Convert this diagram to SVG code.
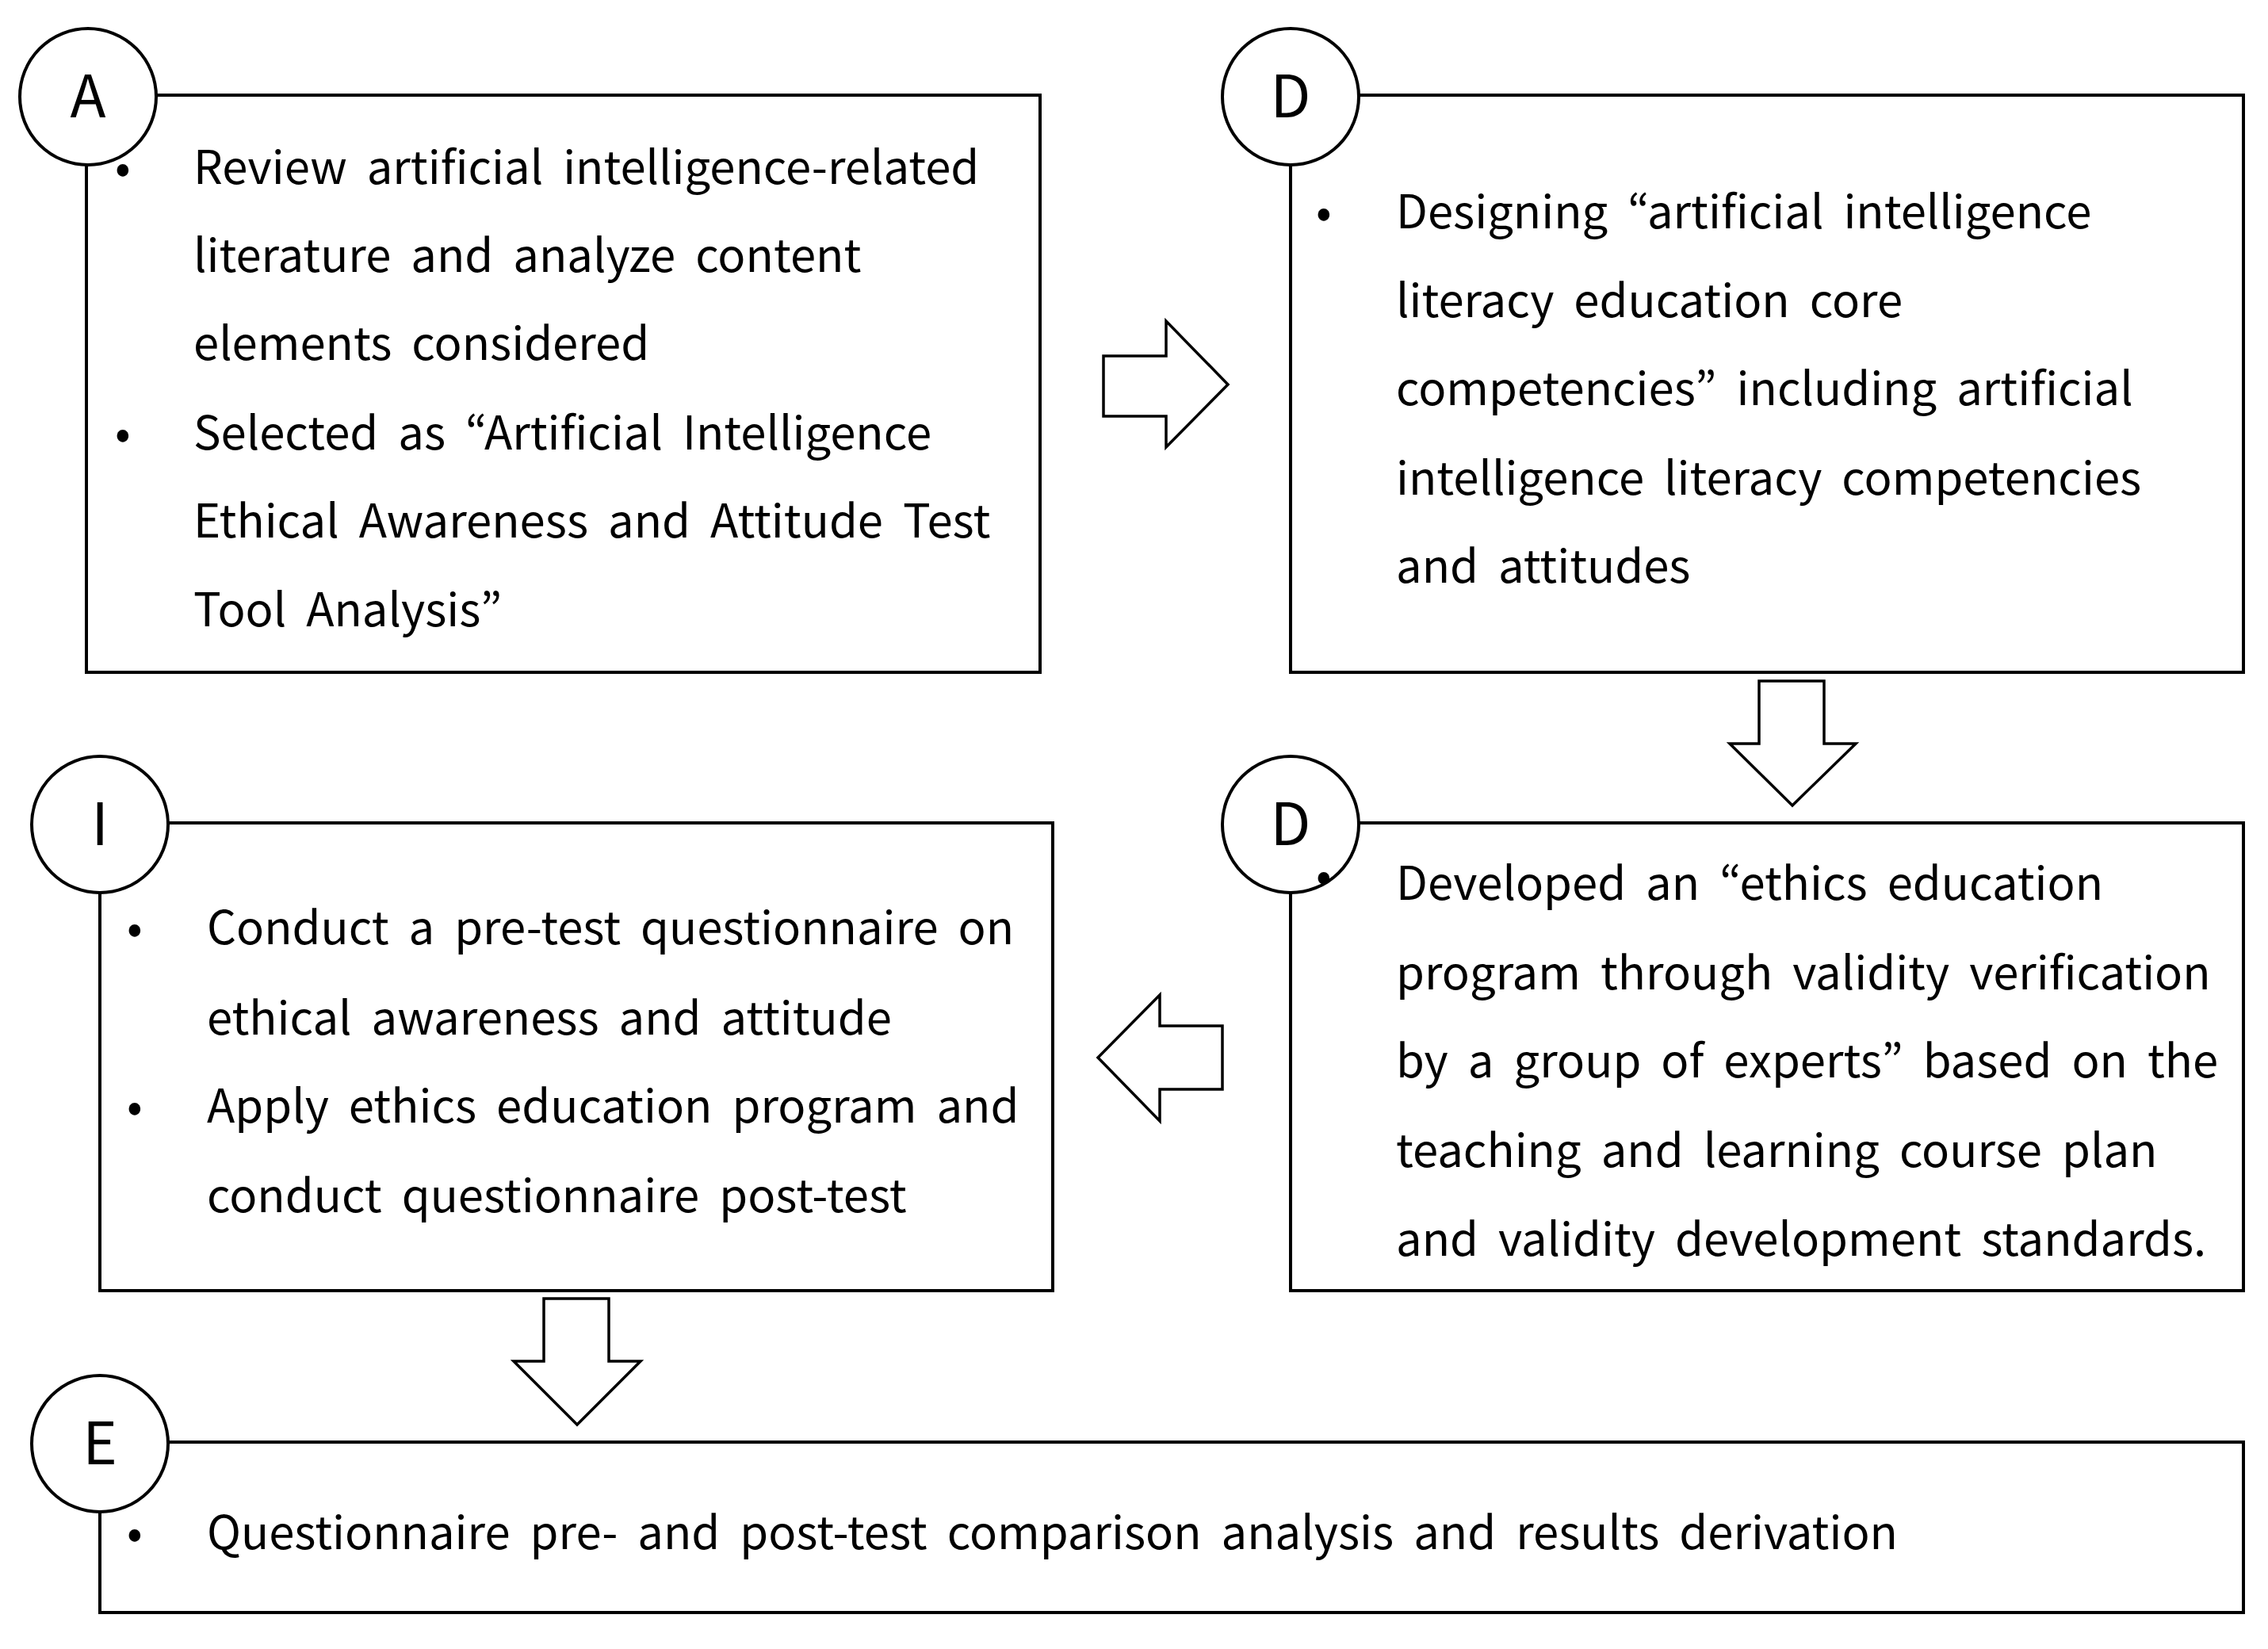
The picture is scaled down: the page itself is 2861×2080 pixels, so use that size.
<svg xmlns="http://www.w3.org/2000/svg" width="2861" height="2080" viewBox="0 0 2861 2080">
<style>
.b{fill:#fff;stroke:#000;stroke-width:4}
.a{fill:#fff;stroke:#000;stroke-width:3.5;stroke-linejoin:miter}
text{font-family:"Noto Sans CJK KR","Open Sans",sans-serif;font-size:58px;fill:#000;word-spacing:12px}
.l{font-size:74px;text-anchor:middle}
</style>
<rect width="2861" height="2080" fill="#fff"/>
<g id="connectors">
<polygon class="a" points="1392,449 1471,449 1471,405 1549,485 1471,564 1471,525 1392,525"/>
<polygon class="a" points="2219,859 2301,859 2301,938 2341,938 2261,1016 2182,938 2219,938"/>
<polygon class="a" points="1542,1294 1463,1294 1463,1255 1385,1334 1463,1414 1463,1374 1542,1374"/>
<polygon class="a" points="686,1638 768,1638 768,1717 808,1717 728,1797 648,1717 686,1717"/>
</g>
<g id="nodeA">
<rect class="b" x="109" y="120" width="1203" height="728"/>
<circle class="b" cx="111" cy="122" r="86"/>
<text class="l" x="111" y="148">A</text>
<text x="145" y="232">•</text><text x="244" y="232">Review artificial intelligence-related</text>
<text x="244" y="343">literature and analyze content</text>
<text x="244" y="454">elements considered</text>
<text x="145" y="567">•</text><text x="244" y="567">Selected as “Artificial Intelligence</text>
<text x="244" y="678">Ethical Awareness and Attitude Test</text>
<text x="244" y="790">Tool Analysis”</text>
</g>
<g id="nodeD1">
<rect class="b" x="1628" y="120" width="1202" height="728"/>
<circle class="b" cx="1628" cy="122" r="86"/>
<text class="l" x="1628" y="148">D</text>
<text x="1660" y="288">•</text><text x="1761" y="288">Designing “artificial intelligence</text>
<text x="1761" y="400">literacy education core</text>
<text x="1761" y="511">competencies” including artificial</text>
<text x="1761" y="624">intelligence literacy competencies</text>
<text x="1761" y="735">and attitudes</text>
</g>
<g id="nodeD2">
<rect class="b" x="1628" y="1038" width="1202" height="590"/>
<circle class="b" cx="1628" cy="1040" r="86"/>
<text class="l" x="1628" y="1066">D</text>
<text x="1660" y="1125">•</text><text x="1761" y="1135">Developed an “ethics education</text>
<text x="1761" y="1248">program through validity verification</text>
<text x="1761" y="1359">by a group of experts” based on the</text>
<text x="1761" y="1472">teaching and learning course plan</text>
<text x="1761" y="1584">and validity development standards.</text>
</g>
<g id="nodeI">
<rect class="b" x="126" y="1038" width="1202" height="590"/>
<circle class="b" cx="126" cy="1040" r="86"/>
<text class="l" x="126" y="1066">I</text>
<text x="160" y="1191">•</text><text x="261" y="1191">Conduct a pre-test questionnaire on</text>
<text x="261" y="1305">ethical awareness and attitude</text>
<text x="160" y="1416">•</text><text x="261" y="1416">Apply ethics education program and</text>
<text x="261" y="1529">conduct questionnaire post-test</text>
</g>
<g id="nodeE">
<rect class="b" x="126" y="1819" width="2704" height="215"/>
<circle class="b" cx="126" cy="1821" r="86"/>
<text class="l" x="126" y="1847">E</text>
<text x="160" y="1954">•</text><text x="261" y="1954">Questionnaire pre- and post-test comparison analysis and results derivation</text>
</g>
</svg>
